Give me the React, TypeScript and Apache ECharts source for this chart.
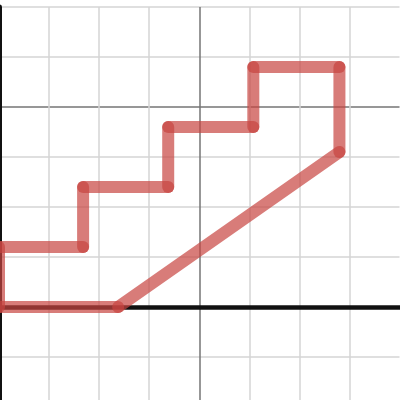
import { useEffect, useRef } from "react";
import * as echarts from "echarts";

// polygon vertices (x, y), one grid cell = 5 units
const pointsX = [0, 11.9, 34, 34, 25.4, 25.4, 16.9, 16.9, 8.4, 8.4, 0, 0];
const pointsY = [0, 0, 15.5, 24, 24, 18, 18, 12, 12, 6, 6, 0];

const xRange = [0, 40];
const yRange = [-10, 30];
const gridStep = 5;

const lightGrid = "#d4d4d4";
const darkGrid = "#747474";
const strokeColor = "rgba(199, 68, 64, 0.7)";

export default function App() {
  const chartRef = useRef<HTMLDivElement>(null);

  useEffect(() => {
    if (!chartRef.current) return;
    const chart = echarts.init(chartRef.current, null, { renderer: "svg" });

    // each edge drawn on its own so the round caps overlap at the corners
    const segments = pointsX.slice(0, -1).map((x, i) => ({
      type: "line" as const,
      data: [
        [x, pointsY[i]],
        [pointsX[i + 1], pointsY[i + 1]],
      ],
      showSymbol: false,
      silent: true,
      lineStyle: { color: strokeColor, width: 12, cap: "round" as const, join: "round" as const },
    }));

    const option: echarts.EChartsOption = {
      animation: false,
      grid: { left: -1, top: 7, width: 400.5, height: 400, outerBoundsMode: "none" } as any,
      xAxis: {
        type: "value",
        min: xRange[0],
        max: xRange[1],
        interval: gridStep,
        axisLabel: { show: false },
        axisTick: { show: false },
        axisLine: { onZero: true, lineStyle: { color: "#111", width: 4.5 } },
        splitLine: {
          show: true,
          showMaxLine: false,
          lineStyle: { color: [darkGrid, lightGrid, lightGrid, lightGrid], width: 1.5 },
        },
      },
      yAxis: {
        type: "value",
        min: yRange[0],
        max: yRange[1],
        interval: gridStep,
        axisLabel: { show: false },
        axisTick: { show: false },
        axisLine: { onZero: true, lineStyle: { color: "#111", width: 5 } },
        splitLine: {
          show: true,
          lineStyle: { color: [lightGrid, lightGrid, darkGrid, lightGrid], width: 1.5 },
        },
      },
      series: segments,
    };

    chart.setOption(option);

    return () => {
      chart.dispose();
    };
  }, []);

  return (
    <div
      ref={chartRef}
      style={{ position: "absolute", left: 0, top: 0, width: "400px", height: "400px", background: "#fff" }}
    />
  );
}
